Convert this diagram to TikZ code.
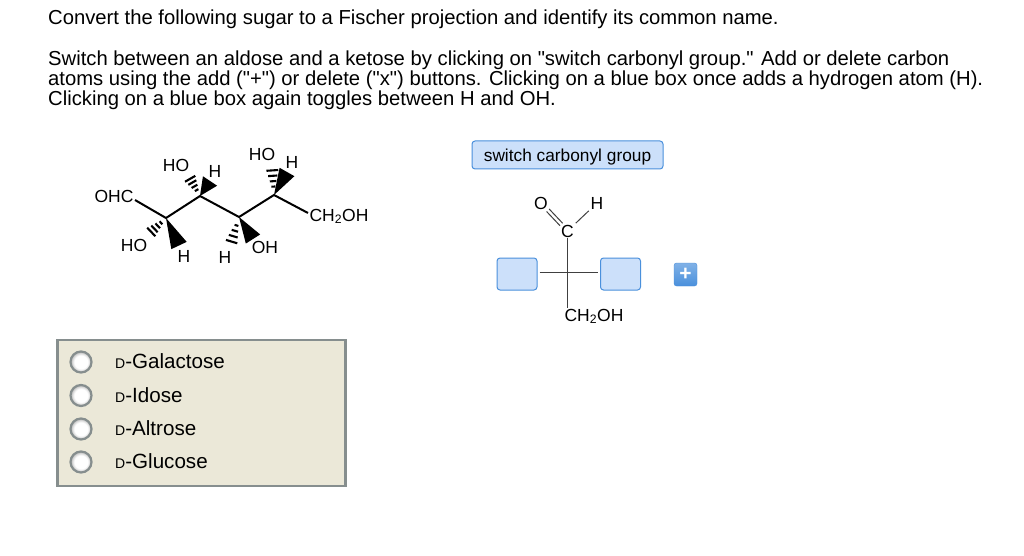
\documentclass[tikz,border=0pt]{standalone}
\usepackage{fontspec}
\setmainfont{Liberation Sans}
\usetikzlibrary{calc, positioning}
\definecolor{btnblue}{HTML}{CCE0FA}
\definecolor{btnedge}{HTML}{4A90DC}
\definecolor{panelfill}{HTML}{EBE8D8}
\definecolor{paneledge}{HTML}{868E8E}
\pgfdeclareradialshading{radiowell}{\pgfpointorigin}{color(0bp)=(white); color(16bp)=(white); color(30bp)=(black!45); color(50bp)=(black!45)}
\newcommand{\smalld}{{\fontsize{14}{14}\selectfont D}}
\newcommand{\hashbond}[2]{
	\foreach \t/\w in {0.28/2pt, 0.46/3.3pt, 0.64/4.6pt, 0.82/5.9pt, 1.0/7.2pt} {
		\draw[hashline] ($(#1)!\t!(#2)!\w!90:(#2)$) -- ($(#1)!\t!(#2)!\w!-90:(#2)$);
	}
}
\newcommand{\wedgebond}[2]{
	\fill (#1) -- ($(#2)!8.5pt!90:(#1)$) -- ($(#2)!8.5pt!-90:(#1)$) -- cycle;
}
\begin{document}
\begin{tikzpicture}[
		x=1pt, y=-1pt,
		texts/.style = {anchor=base west, inner sep=0pt, font=\fontsize{20.25}{20.25}\selectfont},
		atomtext/.style = {inner sep=1pt, font=\fontsize{17.5}{17.5}\selectfont},
		choicetext/.style = {anchor=base west, inner sep=0pt, font=\fontsize{20.6}{20.6}\selectfont},
		bondline/.style = {draw=black, line width=2pt},
		hashline/.style = {draw=black, line width=2.1pt},
		thinbond/.style = {draw=black!75, line width=1pt},
		bluebox/.style = {draw=btnedge, fill=btnblue, rounded corners=3pt, line width=1pt},
		radio/.style = {circle, minimum size=21pt, inner sep=0pt, shading=radiowell, draw=paneledge, line width=2.2pt},
		]
		\useasboundingbox (0,0) rectangle (1024,556);
		\fill[white] (0,0) rectangle (1024,556);
		
		\node [texts] (title) at (48,25) {Convert the following sugar to a Fischer projection and identify its common name.};
		\node [texts] (line1) at (48,66) {Switch between an aldose and a ketose by clicking on \textquotedbl switch carbonyl group.\textquotedbl{} Add or delete carbon};
		\node [texts] (line2) at (48,85.5) {atoms using the add (\textquotedbl +\textquotedbl) or delete (\textquotedbl x\textquotedbl) buttons. Clicking on a blue box once adds a hydrogen atom (H).};
		\node [texts] (line3) at (48,105.5) {Clicking on a blue box again toggles between H and OH.};
		
		% zigzag chain
		\coordinate (c1) at (135,200);
		\coordinate (c2) at (166,218);
		\coordinate (c3) at (200,196);
		\coordinate (c4) at (239,217);
		\coordinate (c5) at (274,195);
		\coordinate (c6) at (308,213);
		\coordinate (wedge2) at (179,245.5);
		\coordinate (wedge3) at (210,181);
		\coordinate (wedge4) at (253,239);
		\coordinate (wedge5) at (287,172);
		\coordinate (hash2) at (148,235);
		\coordinate (hash3) at (188,175);
		\coordinate (hash4) at (230,247);
		\coordinate (hash5) at (272,165);
		
		\draw[bondline] (c1) -- (c2) -- (c3) -- (c4) -- (c5) -- (c6);
		\wedgebond{c2}{wedge2}
		\wedgebond{c3}{wedge3}
		\wedgebond{c4}{wedge4}
		\wedgebond{c5}{wedge5}
		\hashbond{c2}{hash2}
		\hashbond{c3}{hash3}
		\hashbond{c4}{hash4}
		\hashbond{c5}{hash5}
		
		\node [atomtext] (ohc) at (114,196.5) {OHC};
		\node [atomtext] (ho3) at (176,165) {HO};
		\node [atomtext] (h3) at (215,171) {H};
		\node [atomtext] (ho5) at (262,154) {HO};
		\node [atomtext] (h5) at (292,162) {H};
		\node [atomtext] (ho2) at (134,245.5) {HO};
		\node [atomtext] (h2) at (184,256) {H};
		\node [atomtext] (h4) at (225,257) {H};
		\node [atomtext] (oh4) at (265,247) {OH};
		\node [atomtext] (chtwo) at (339,216.5) {CH\textsubscript{2}OH};
		
		% answer panel
		\node [draw=paneledge, fill=panelfill, line width=2.4pt, minimum width=288pt, minimum height=146pt, inner sep=0pt] (panel) at (201.5,413) {};
		\node [radio] (radio1) at (81,362) {};
		\node [radio] (radio2) at (81,395.5) {};
		\node [radio] (radio3) at (81,429) {};
		\node [radio] (radio4) at (81,462) {};
		\node [choicetext] (galactose) at (115,368) {\smalld-Galactose};
		\node [choicetext] (idose) at (115,402) {\smalld-Idose};
		\node [choicetext] (altrose) at (115,435.5) {\smalld-Altrose};
		\node [choicetext] (glucose) at (115,468) {\smalld-Glucose};
		
		% fischer template
		\node [bluebox, minimum width=191pt, minimum height=28pt, inner sep=0pt] (switch) at (567.5,155) {};
		\node [inner sep=0pt, font=\fontsize{17.3}{17.3}\selectfont] (switchlabel) at (567.5,157) {switch carbonyl group};
		\node [atomtext] (carbon) at (567.5,231) {C};
		\node [atomtext] (oxygen) at (541,203) {O};
		\node [atomtext] (hydrogen) at (597,203) {H};
		\node [atomtext] (chtwob) at (594,316.5) {CH\textsubscript{2}OH};
		\node [bluebox, minimum width=40pt, minimum height=32pt, inner sep=0pt] (boxleft) at (517,274) {};
		\node [bluebox, minimum width=40pt, minimum height=32pt, inner sep=0pt] (boxright) at (620.5,274) {};
		\node [draw=btnedge, rounded corners=2.5pt, top color=btnedge!70, bottom color=btnedge, minimum size=23pt, inner sep=0pt, text=white, font=\bfseries\fontsize{21}{21}\selectfont] (plus) at (685.5,274.5) {+};
		
		\draw[thinbond] (carbon) -- (chtwob.north -| carbon);
		\draw[thinbond] ($(boxleft.east)+(2,-1.5)$) -- ($(boxright.west)+(-2,-1.5)$);
		\draw[thinbond, shorten <=1pt, shorten >=1pt] (carbon) -- (hydrogen);
		\draw[thinbond, shorten <=10pt, shorten >=9pt] ($(oxygen)!1.8pt!90:(carbon)$) -- ($(carbon)!1.8pt!-90:(oxygen)$);
		\draw[thinbond, shorten <=10pt, shorten >=9pt] ($(oxygen)!1.8pt!-90:(carbon)$) -- ($(carbon)!1.8pt!90:(oxygen)$);
\end{tikzpicture}
\end{document}
